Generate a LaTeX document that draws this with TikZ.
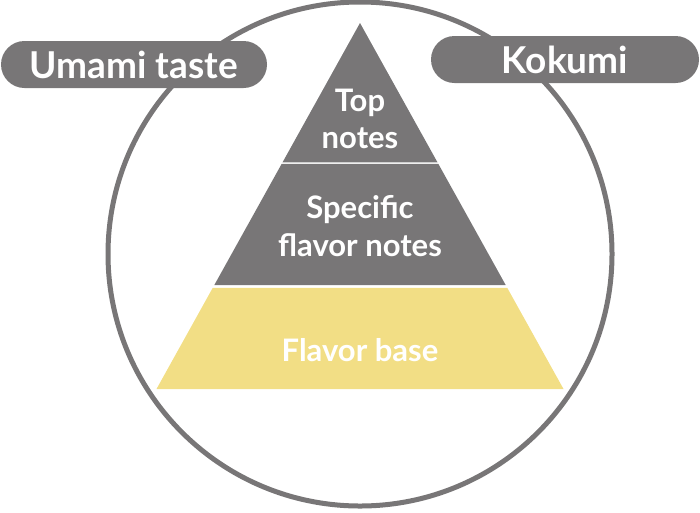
\documentclass[tikz,border=0pt]{standalone}
\usepackage{fontspec}
\setmainfont{Lato}
\usepackage{xcolor}
\usepackage{tikz}
\usetikzlibrary{calc}

\definecolor{pgray}{HTML}{787677}
\definecolor{pyellow}{HTML}{F2DE85}

\begin{document}
\begin{tikzpicture}[x=1pt,y=-1pt,
  pill/.style={fill=pgray,text=white,rounded corners=23.5pt,inner sep=0pt,minimum height=47pt,font=\fontsize{37}{44}\selectfont\bfseries},
  layertext/.style={text=white,align=center,inner sep=0pt,font=\fontsize{31}{37.5}\selectfont\bfseries}]

\useasboundingbox (0,0) rectangle (700,512);

% Draw circle
\draw[pgray, line width=5pt] (360,254) circle(252);

% Draw pyramid corners
\coordinate (apex) at (360,23);
\coordinate (bl) at (156.5,389);
\coordinate (br) at (563.5,389);

% Draw layers
\fill[pgray] (apex) -- ($(apex)!0.381!(br)$) -- ($(apex)!0.381!(bl)$) -- cycle;
\fill[pgray] ($(apex)!0.385!(bl)$) -- ($(apex)!0.385!(br)$) -- ($(apex)!0.716!(br)$) -- ($(apex)!0.716!(bl)$) -- cycle;
\fill[pyellow] ($(apex)!0.724!(bl)$) -- ($(apex)!0.724!(br)$) -- (br) -- (bl) -- cycle;

% Layer labels
\node[layertext] (top) at (360,119) {Top\\notes};
\node[layertext] (specific) at (360,226) {Specific\\flavor notes};
\node[layertext] (base) at (360,350) {Flavor base};

% Side labels
\node[pill, minimum width=266pt] (umami) at (134,64.5) {Umami taste};
\node[pill, minimum width=268pt] (kokumi) at (565,59.5) {Kokumi};

\end{tikzpicture}
\end{document}
